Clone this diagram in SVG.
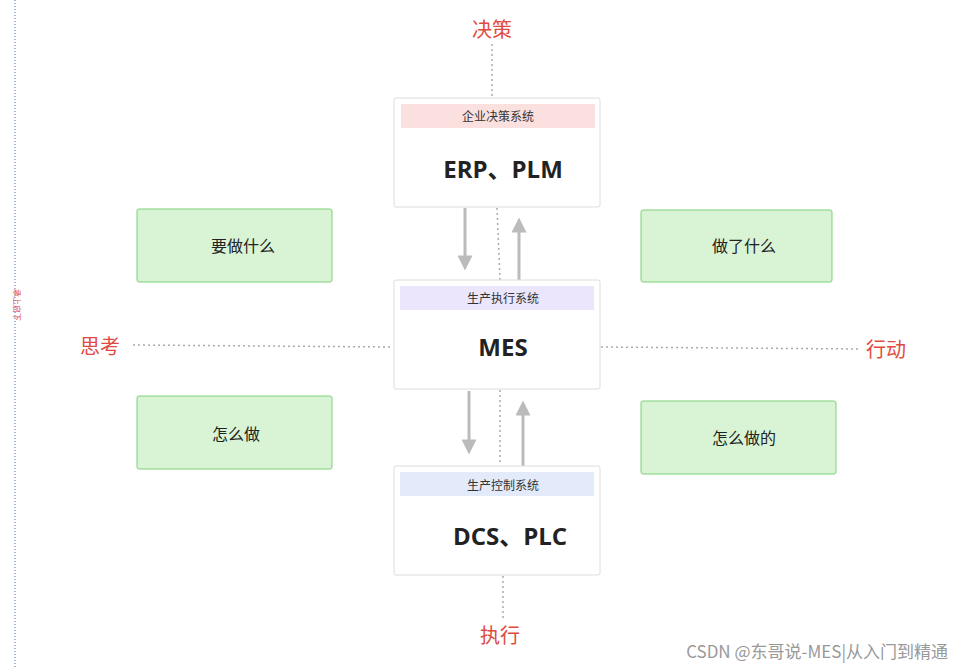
<svg xmlns="http://www.w3.org/2000/svg" width="953" height="669" viewBox="0 0 953 669">
<style>
.box{fill:#fff;stroke:#dcdcdc;stroke-width:1}
.g{fill:#d8f4d4;stroke:#7fd07a;stroke-width:1}
.gt{font-family:"Noto Sans CJK SC",sans-serif;font-size:16px;fill:#222;text-anchor:middle}
.st{font-family:"Noto Sans CJK SC",sans-serif;font-size:12px;fill:#333;text-anchor:middle}
.big{font-family:"Open Sans","Noto Sans CJK SC",sans-serif;font-size:24px;font-weight:bold;fill:#222;text-anchor:middle}
.red{font-family:"Noto Sans CJK SC",sans-serif;font-size:20px;fill:#e04a3f;text-anchor:middle}
.dot{stroke:#aaa;stroke-width:1.5;stroke-dasharray:2 3;fill:none}
.arr{stroke:#bbb;stroke-width:3;fill:none}
</style>
<defs><marker id="ah" viewBox="0 0 10 10" refX="5" refY="5" markerWidth="6" markerHeight="5" markerUnits="strokeWidth" orient="auto"><path d="M0,0L10,5L0,10z" fill="#bbb"/></marker></defs>
<rect width="953" height="669" fill="#fff"/>
<g id="connectors">
<line class="dot" x1="492" y1="44" x2="492" y2="98"/>
<line class="dot" x1="497" y1="208" x2="500" y2="280"/>
<line class="dot" x1="500" y1="390" x2="500" y2="465"/>
<line class="dot" x1="503" y1="576" x2="503" y2="620"/>
<line class="dot" x1="133" y1="345" x2="393" y2="347"/>
<line class="dot" x1="601" y1="347" x2="860" y2="349"/>
<line x1="15" y1="0" x2="15" y2="669" stroke="#4a6fd0" stroke-width="1" stroke-dasharray="1 2"/>
<line class="arr" x1="465" y1="208" x2="465" y2="263" marker-end="url(#ah)"/>
<line class="arr" x1="519" y1="280" x2="519" y2="225" marker-end="url(#ah)"/>
<line class="arr" x1="469" y1="391" x2="469" y2="447" marker-end="url(#ah)"/>
<line class="arr" x1="523" y1="466" x2="523" y2="408" marker-end="url(#ah)"/>
</g>
<g id="erp"><rect class="box" x="394" y="98" width="206" height="109" rx="2"/><rect x="401" y="104" width="194" height="24" fill="#fbe0e0"/><text class="st" x="498" y="121">企业决策系统</text><text class="big" x="503" y="178">ERP、PLM</text></g>
<g id="mes"><rect class="box" x="394" y="280" width="206" height="109" rx="2"/><rect x="400" y="286" width="194" height="24" fill="#ebe6fb"/><text class="st" x="503" y="303">生产执行系统</text><text class="big" x="503" y="356">MES</text></g>
<g id="dcs"><rect class="box" x="394" y="466" width="206" height="109" rx="2"/><rect x="400" y="472" width="194" height="24" fill="#e3ebfb"/><text class="st" x="503" y="490">生产控制系统</text><text class="big" x="510" y="545">DCS、PLC</text></g>
<g id="g1"><rect class="g" x="137" y="209" width="195" height="73" rx="2"/><text class="gt" x="243" y="252">要做什么</text></g>
<g id="g2"><rect class="g" x="641" y="210" width="191" height="72" rx="2"/><text class="gt" x="744" y="252">做了什么</text></g>
<g id="g3"><rect class="g" x="137" y="396" width="195" height="73" rx="2"/><text class="gt" x="236" y="440">怎么做</text></g>
<g id="g4"><rect class="g" x="641" y="401" width="195" height="73" rx="2"/><text class="gt" x="744" y="444">怎么做的</text></g>
<g id="labels">
<text class="red" x="492" y="37">决策</text>
<text class="red" x="100" y="354">思考</text>
<text class="red" x="886" y="357">行动</text>
<text class="red" x="500" y="643">执行</text>
<text x="14" y="305" transform="rotate(90 14 305)" font-family="Noto Sans CJK SC,sans-serif" font-size="8" fill="#e04a3f" text-anchor="middle">承上启下</text>
<text x="948" y="658" font-family="Noto Sans CJK SC,sans-serif" font-size="17" fill="#999" text-anchor="end">CSDN @东哥说-MES|从入门到精通</text>
</g>
</svg>
